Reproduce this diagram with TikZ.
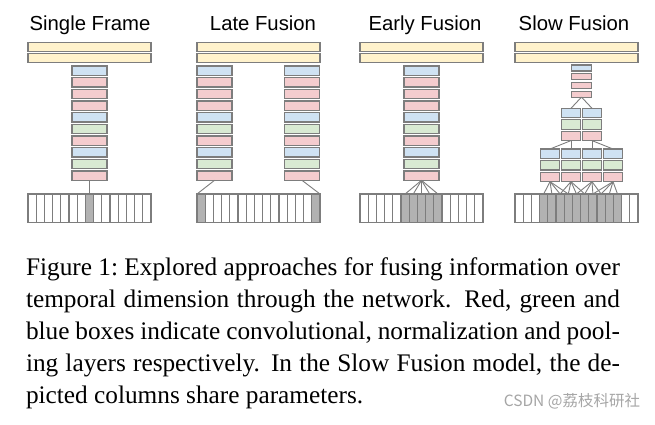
\documentclass[tikz,border=0pt]{standalone}
\usepackage{fontspec}
\setmainfont{Liberation Serif}
\setsansfont{Liberation Sans}
\newfontfamily\cjkfont{Noto Sans CJK SC}
\definecolor{ConvRed}{RGB}{244,204,206}
\definecolor{NormGreen}{RGB}{217,234,211}
\definecolor{PoolBlue}{RGB}{207,226,243}
\definecolor{FcYellow}{RGB}{255,242,204}
\definecolor{FrameGray}{RGB}{178,178,178}
\definecolor{EdgeGray}{RGB}{125,125,125}

% one column of layers: name, centre x, top y
\newcommand{\layerstack}[3]{%
  \foreach \c [count=\i] in {PoolBlue,ConvRed,ConvRed,ConvRed,PoolBlue,NormGreen,ConvRed,PoolBlue,NormGreen,ConvRed}
    \node[layer, fill=\c] (#1\i) at (#2, {#3+(\i-1)*11.67}) {};
}
% strip of 15 video frames: name, left x, list of grey frames
\newcommand{\framestrip}[3]{%
  \foreach \k in {0,...,14}
    \node[cell] (#1\k) at ({#2+(\k+0.5)*8.2}, 208.35) {};
  \foreach \k in {#3}
    \node[cell, fill=FrameGray] (#1\k) at ({#2+(\k+0.5)*8.2}, 208.35) {};
}

\begin{document}
\begin{tikzpicture}[
  x=1pt, y=-1pt,
  every node/.style={inner sep=0pt, outer sep=0pt},
  title/.style={font=\sffamily\fontsize{20.3}{24}\selectfont, anchor=base},
  fc/.style={draw=EdgeGray, line width=1.1pt, fill=FcYellow,
             minimum width=123pt, minimum height=9.5pt, anchor=north west},
  layer/.style={draw=EdgeGray, line width=1.1pt, minimum width=35pt,
                minimum height=9.3pt, anchor=north},
  slim/.style={layer, minimum width=19.5pt},
  tiny/.style={slim, minimum height=6pt},
  cell/.style={draw=EdgeGray, line width=1.1pt, fill=white,
               minimum width=8.2pt, minimum height=28.7pt},
  wire/.style={draw=EdgeGray, line width=0.9pt}
]
  \useasboundingbox[fill=white] (0,0) rectangle (655,424);

  %% Titles
  \node[title] (tsingle) at (90, 30)  {Single Frame};
  \node[title] (tlate)   at (263, 30) {Late Fusion};
  \node[title] (tearly)  at (425, 30) {Early Fusion};
  \node[title] (tslow)   at (574, 30) {Slow Fusion};

  %% Fully connected layers
  \foreach \n/\x in {sf/28, lf/197, ef/360, sl/515} {
    \node[fc] (\n fc1) at (\x, 42.2) {};
    \node[fc] (\n fc2) at (\x, 53.4) {};
  }

  %% Single Frame
  \layerstack{sf}{89.5}{66}
  \framestrip{sfc}{28}{7}
  \draw[wire] (sf10.south) -- (sfc7.north);

  %% Late Fusion
  \layerstack{lfl}{214.5}{66}
  \layerstack{lfr}{302}{66}
  \framestrip{lfc}{197}{0,14}
  \draw[wire] (lfl10.south) -- (lfc0.north west);
  \draw[wire] (lfr10.south) -- (lfc14.north east);

  %% Early Fusion
  \layerstack{ef}{421.5}{66}
  \framestrip{efc}{360}{5,...,9}
  \foreach \k in {5,...,9}
    \draw[wire] (ef10.south) -- (efc\k.north);

  %% Slow Fusion
  \foreach \c [count=\i] in {PoolBlue,ConvRed,ConvRed,ConvRed}
    \node[tiny, fill=\c] (slt\i) at (581.5, {65+(\i-1)*8.7}) {};
  \foreach \j/\x in {1/571, 2/592}
    \foreach \c [count=\i] in {PoolBlue,NormGreen,ConvRed}
      \node[slim, fill=\c] (slm\j-\i) at (\x, {108.3+(\i-1)*11.5}) {};
  \foreach \j/\x in {1/550, 2/571, 3/592, 4/613}
    \foreach \c [count=\i] in {PoolBlue,NormGreen,ConvRed}
      \node[slim, fill=\c] (slb\j-\i) at (\x, {149+(\i-1)*11.67}) {};
  \framestrip{slc}{515}{3,...,12}

  \draw[wire] (slt4.south) -- (slm1-1.north);
  \draw[wire] (slt4.south) -- (slm2-1.north);
  \foreach \j/\a/\b in {1/1/2, 2/3/4} {
    \draw[wire] (slm\j-3.south) -- (slb\a-1.north);
    \draw[wire] (slm\j-3.south) -- (slb\b-1.north);
  }
  \foreach \j in {1,...,4}
    \foreach \d in {0,...,3} {
      \pgfmathtruncatemacro{\k}{2*\j+1+\d}
      \draw[wire] (slb\j-3.south) -- (slc\k.north);
    }

  %% Caption
  \node[anchor=base west, text width=594pt, align=justify,
        font=\fontsize{25.3}{32.2}\selectfont] (caption) at (26, 275)
    {Figure 1:\ Explored approaches for fusing information over\linebreak
     temporal dimension through the network.  Red, green and\linebreak
     blue boxes indicate convolutional, normalization and pool-\linebreak
     ing layers respectively.  In the Slow Fusion model, the de-\linebreak
     picted columns share parameters.};

  %% Watermark
  \node[anchor=base east, text=gray!70, font=\cjkfont\fontsize{15.5}{18}\selectfont]
    (mark) at (640, 406) {CSDN @荔枝科研社};
\end{tikzpicture}
\end{document}
